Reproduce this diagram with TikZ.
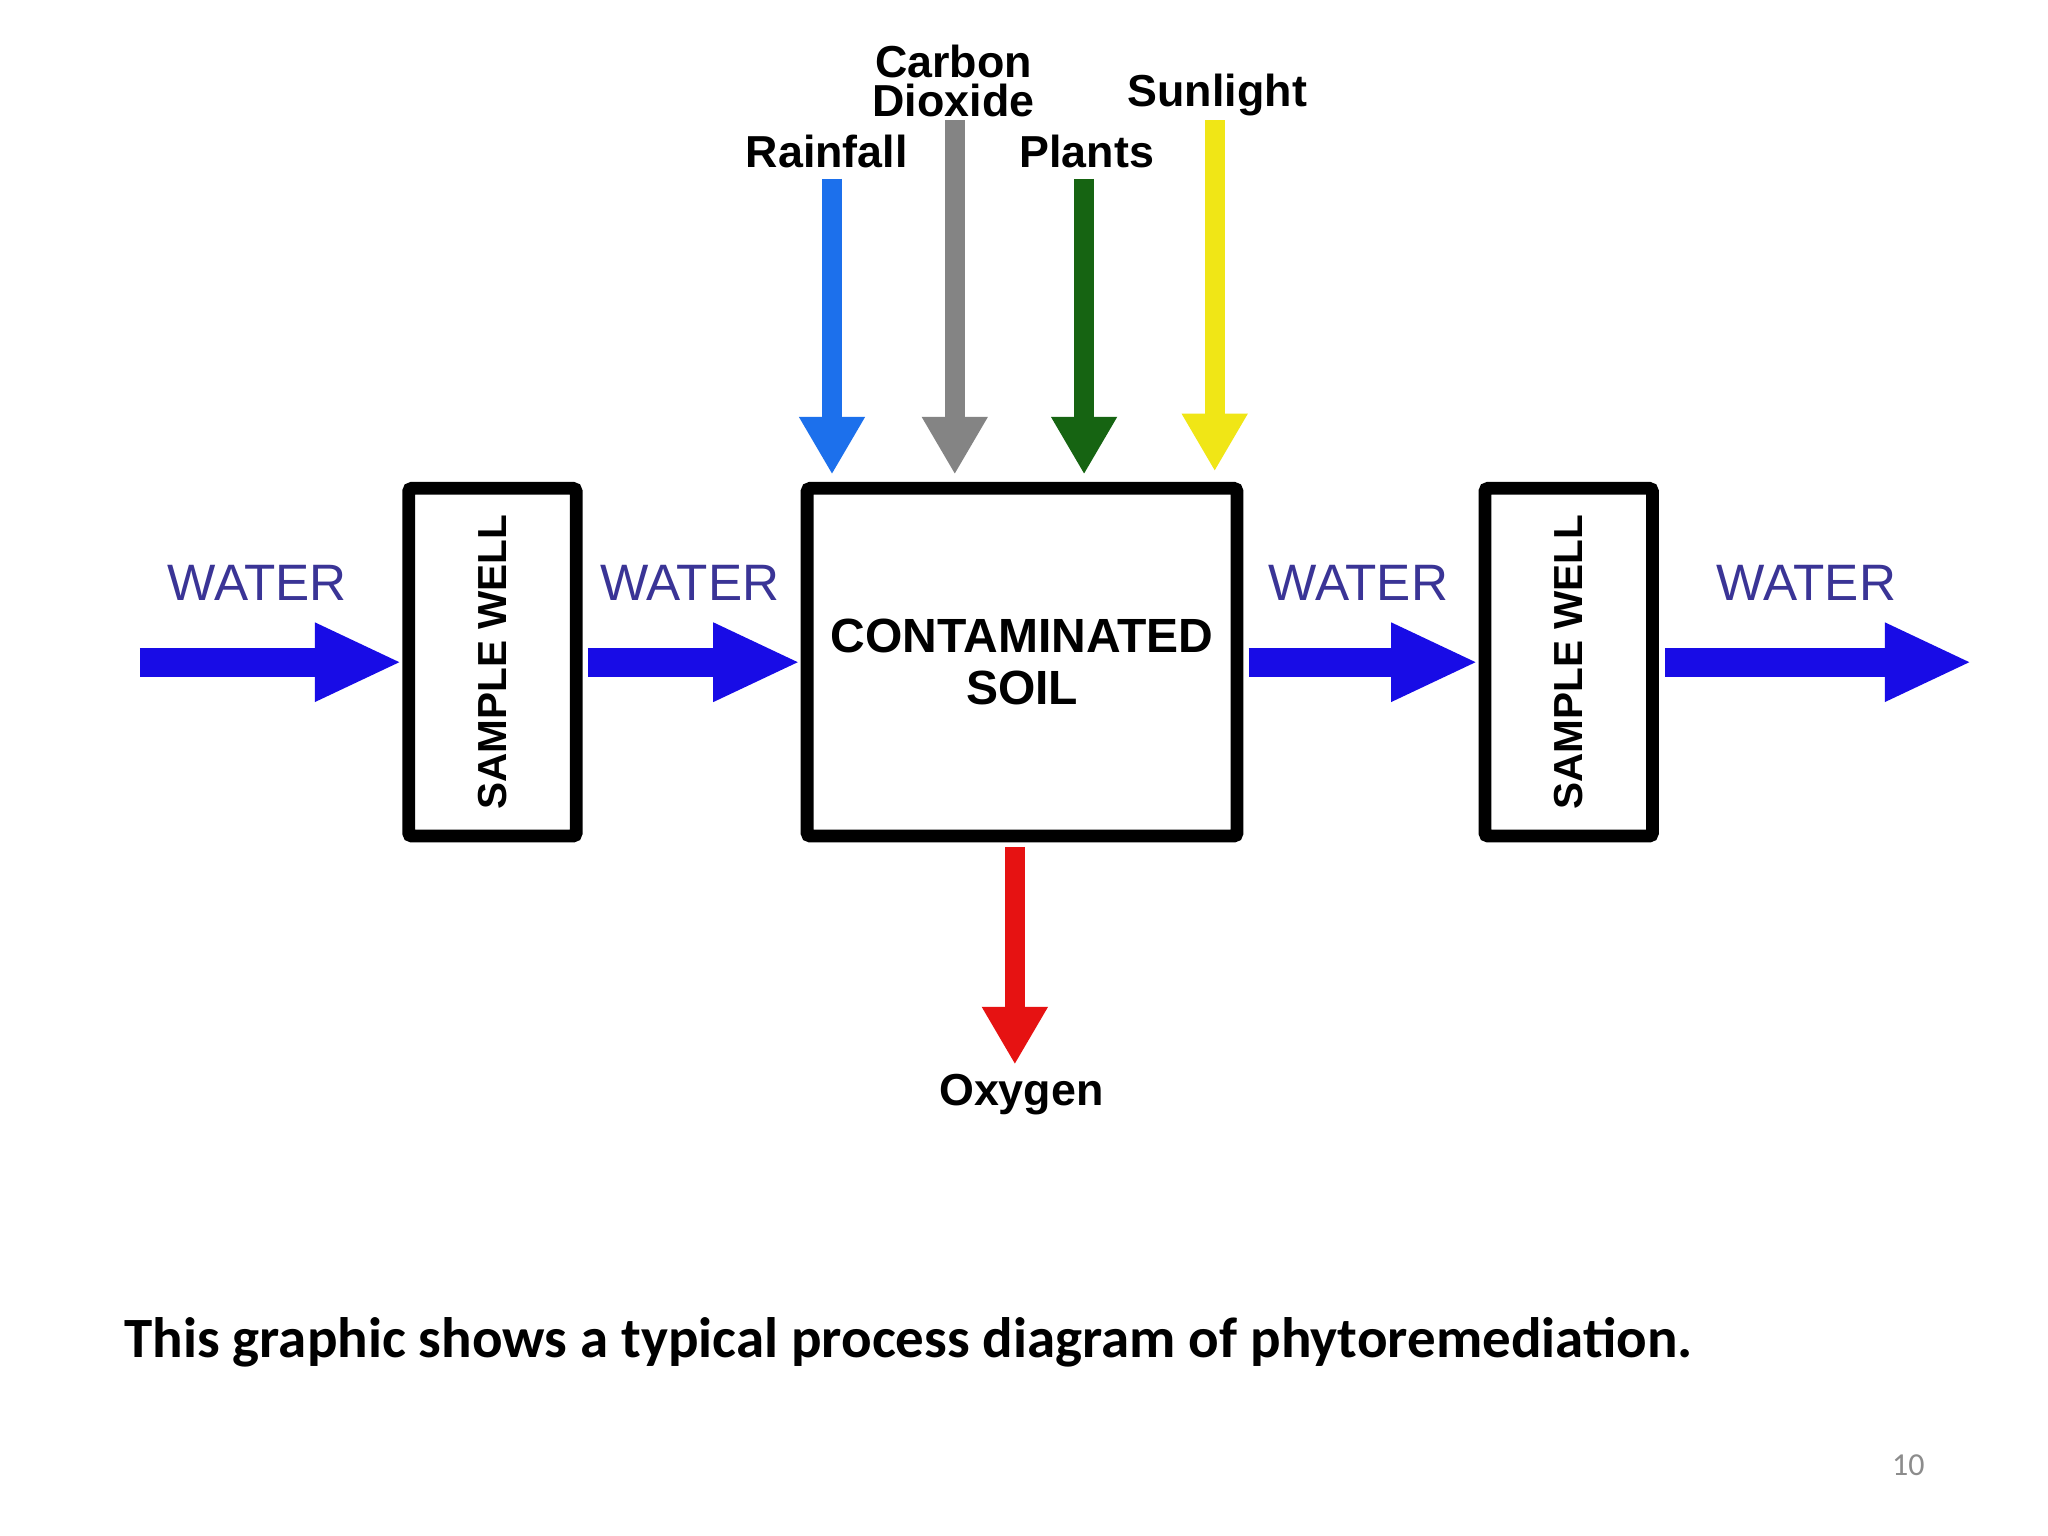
\documentclass[tikz,border=0pt]{standalone}
\usepackage{fontspec}
\setmainfont{Liberation Sans}
\newfontfamily\calfont{Carlito}
\usetikzlibrary{arrows.meta}

\definecolor{flowblue}{RGB}{24,12,230}
\definecolor{waterblue}{RGB}{58,52,150}
\definecolor{rainblue}{RGB}{28,112,236}
\definecolor{co2gray}{RGB}{132,132,132}
\definecolor{plantgreen}{RGB}{22,100,18}
\definecolor{sunyellow}{RGB}{240,230,22}
\definecolor{oxyred}{RGB}{230,18,18}

\tikzset{
  box/.style={draw=black, line width=6pt, rounded corners=1.5pt, fill=white,
    minimum height=163pt, inner sep=0pt},
  well/.style={box, minimum width=78.5pt},
  flow/.style={draw=flowblue, line width=13.5pt, -{Triangle[width=34pt,length=41pt]}},
  feed/.style={line width=9.5pt, -{Triangle[width=29pt,length=27pt]}},
  waterlbl/.style={text=waterblue, inner sep=0pt, font=\fontsize{24}{28}\selectfont},
  inlbl/.style={inner sep=0pt, align=center, font=\bfseries\fontsize{21}{18}\selectfont},
}

\begin{document}
\begin{tikzpicture}[x=0.6122pt, y=-0.6122pt]
\fill[white] (0,0) rectangle (1568,1176);
\useasboundingbox (0,0) rectangle (1568,1176);

% boxes
\node[well] (wellin) at (377,507) {};
\node[rotate=90, font=\bfseries\fontsize{19}{22}\selectfont] at (wellin) {SAMPLE WELL};
\node[box, minimum width=201.5pt, align=center,
  font=\bfseries\fontsize{22.5}{24.5}\selectfont] (soil) at (782.5,507) {CONTAMINATED\\SOIL};
\node[well] (wellout) at (1201,507) {};
\node[rotate=90, font=\bfseries\fontsize{19}{22}\selectfont] at (wellout) {SAMPLE WELL};

% water flow
\coordinate (src) at (107,507);
\coordinate (sink) at (1510,507);
\draw[flow] (src) -- (wellin.west);
\draw[flow, shorten <=2.5pt] (wellin.east) -- (soil.west);
\draw[flow, shorten <=2.5pt] (soil.east) -- (wellout.west);
\draw[flow, shorten <=3pt] (wellout.east) -- (sink);
\node[waterlbl] (waterA) at (197,446) {WATER};
\node[waterlbl] (waterB) at (528,446) {WATER};
\node[waterlbl] (waterC) at (1040,446) {WATER};
\node[waterlbl] (waterD) at (1383,446) {WATER};

% inputs from above
\coordinate (raintop) at (637,137);
\coordinate (co2top) at (731,92);
\coordinate (planttop) at (830,137);
\coordinate (suntop) at (930,92);
\draw[feed, draw=rainblue] (raintop) -- ([yshift=3.5pt]soil.north -| raintop);
\draw[feed, draw=co2gray] (co2top) -- ([yshift=3.5pt]soil.north -| co2top);
\draw[feed, draw=plantgreen] (planttop) -- ([yshift=3.5pt]soil.north -| planttop);
\draw[feed, draw=sunyellow] (suntop) -- ([yshift=5pt]soil.north -| suntop);
\node[inlbl] (rain) at (633,116) {Rainfall};
\node[inlbl] (co2) at (730,62) {Carbon\\Dioxide};
\node[inlbl] (plants) at (832,116) {Plants};
\node[inlbl] (sun) at (932,73) {Sunlight};

% output below
\coordinate (o2end) at (777,815);
\draw[feed, draw=oxyred] ([yshift=-2pt]soil.south -| o2end) -- (o2end);
\node[inlbl] (oxygen) at (782,838) {Oxygen};

\node[anchor=west, inner sep=0pt, font=\calfont\bfseries\fontsize{26.7}{30}\selectfont]
  (caption) at (95,1028) {This graphic shows a typical process diagram of phytoremediation.};
\node[inner sep=0pt, text=black!45, font=\calfont\fontsize{15}{18}\selectfont]
  (pagenum) at (1461,1122) {10};
\end{tikzpicture}
\end{document}
